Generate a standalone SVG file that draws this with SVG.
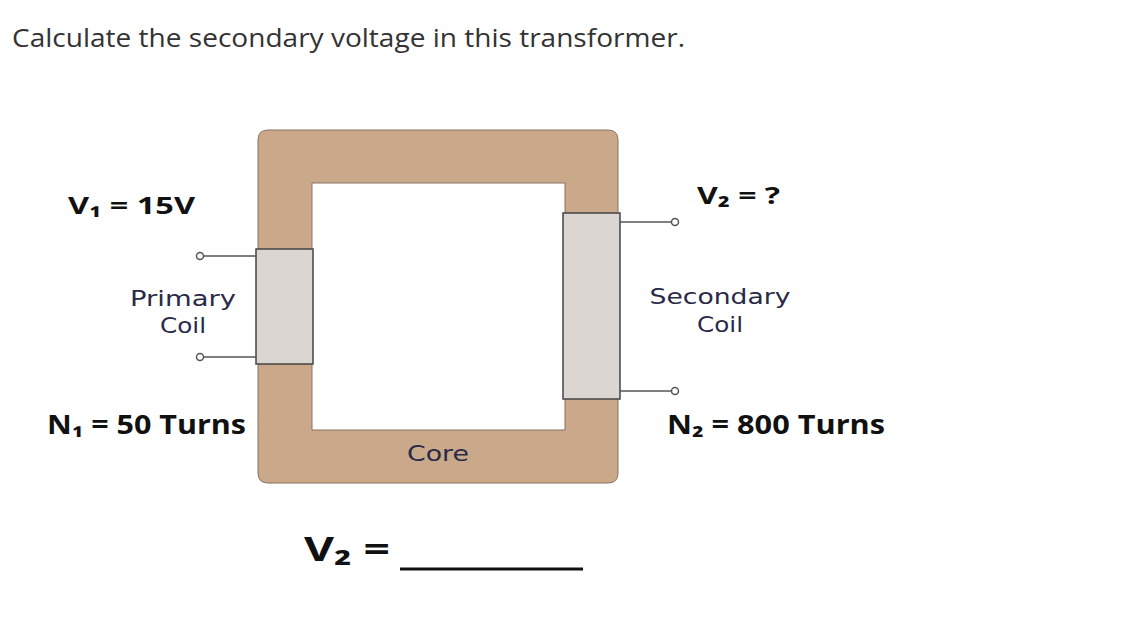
<svg xmlns="http://www.w3.org/2000/svg" width="1124" height="628" viewBox="0 0 1124 628">
<style>
.lbl{font-family:"Open Sans","Liberation Sans",sans-serif;font-weight:bold;fill:#111}
.hand{font-family:"DejaVu Sans",sans-serif;font-size:21px;fill:#2a2a48;text-anchor:middle}
.coil{fill:#dcd6d2;stroke:#444;stroke-width:1.5}
.wire{stroke:#555;stroke-width:1.5;fill:none}
.term{fill:#fff;stroke:#555;stroke-width:1.5}
</style>
<rect width="1124" height="628" fill="#fff"/>
<text x="12" y="47" font-family="'Open Sans',sans-serif" font-size="26" fill="#333" textLength="673" lengthAdjust="spacingAndGlyphs">Calculate the secondary voltage in this transformer.</text>
<g id="core">
<path d="M268,130 H608 Q618,130 618,140 V473 Q618,483 608,483 H268 Q258,483 258,473 V140 Q258,130 268,130 Z M312,183 V430 H565 V183 Z" fill="#c9a98a" fill-rule="evenodd" stroke="#8a7160" stroke-width="1"/>
<text class="hand" x="438" y="461" textLength="62" lengthAdjust="spacingAndGlyphs">Core</text>
</g>
<g id="primary">
<rect class="coil" x="256" y="249" width="57" height="115"/>
<text class="hand" x="183" y="306" textLength="106" lengthAdjust="spacingAndGlyphs">Primary</text>
<text class="hand" x="183" y="333" textLength="46" lengthAdjust="spacingAndGlyphs">Coil</text>
</g>
<g id="secondary">
<rect class="coil" x="563" y="213" width="57" height="186"/>
<text class="hand" x="720" y="304" textLength="141" lengthAdjust="spacingAndGlyphs">Secondary</text>
<text class="hand" x="720" y="332" textLength="46" lengthAdjust="spacingAndGlyphs">Coil</text>
</g>
<g id="connectors">
<line class="wire" x1="204" y1="256" x2="256" y2="256"/>
<line class="wire" x1="204" y1="357" x2="256" y2="357"/>
<circle class="term" cx="200" cy="256" r="3.5"/>
<circle class="term" cx="200" cy="357" r="3.5"/>
<line class="wire" x1="620" y1="222" x2="671" y2="222"/>
<line class="wire" x1="620" y1="391" x2="671" y2="391"/>
<circle class="term" cx="675" cy="222" r="3.5"/>
<circle class="term" cx="675" cy="391" r="3.5"/>
</g>
<g id="labels">
<text class="lbl" x="68" y="214" font-size="24" textLength="127" lengthAdjust="spacingAndGlyphs">V₁ = 15V</text>
<text class="lbl" x="47" y="434" font-size="26" textLength="199" lengthAdjust="spacingAndGlyphs">N₁ = 50 Turns</text>
<text class="lbl" x="697" y="204" font-size="24" textLength="83" lengthAdjust="spacingAndGlyphs">V₂ = ?</text>
<text class="lbl" x="667" y="434" font-size="26" textLength="218" lengthAdjust="spacingAndGlyphs">N₂ = 800 Turns</text>
<text class="lbl" x="304" y="561" font-size="34" textLength="86" lengthAdjust="spacingAndGlyphs">V₂ =</text>
<line x1="400" y1="569" x2="583" y2="569" stroke="#111" stroke-width="3"/>
</g>
</svg>
